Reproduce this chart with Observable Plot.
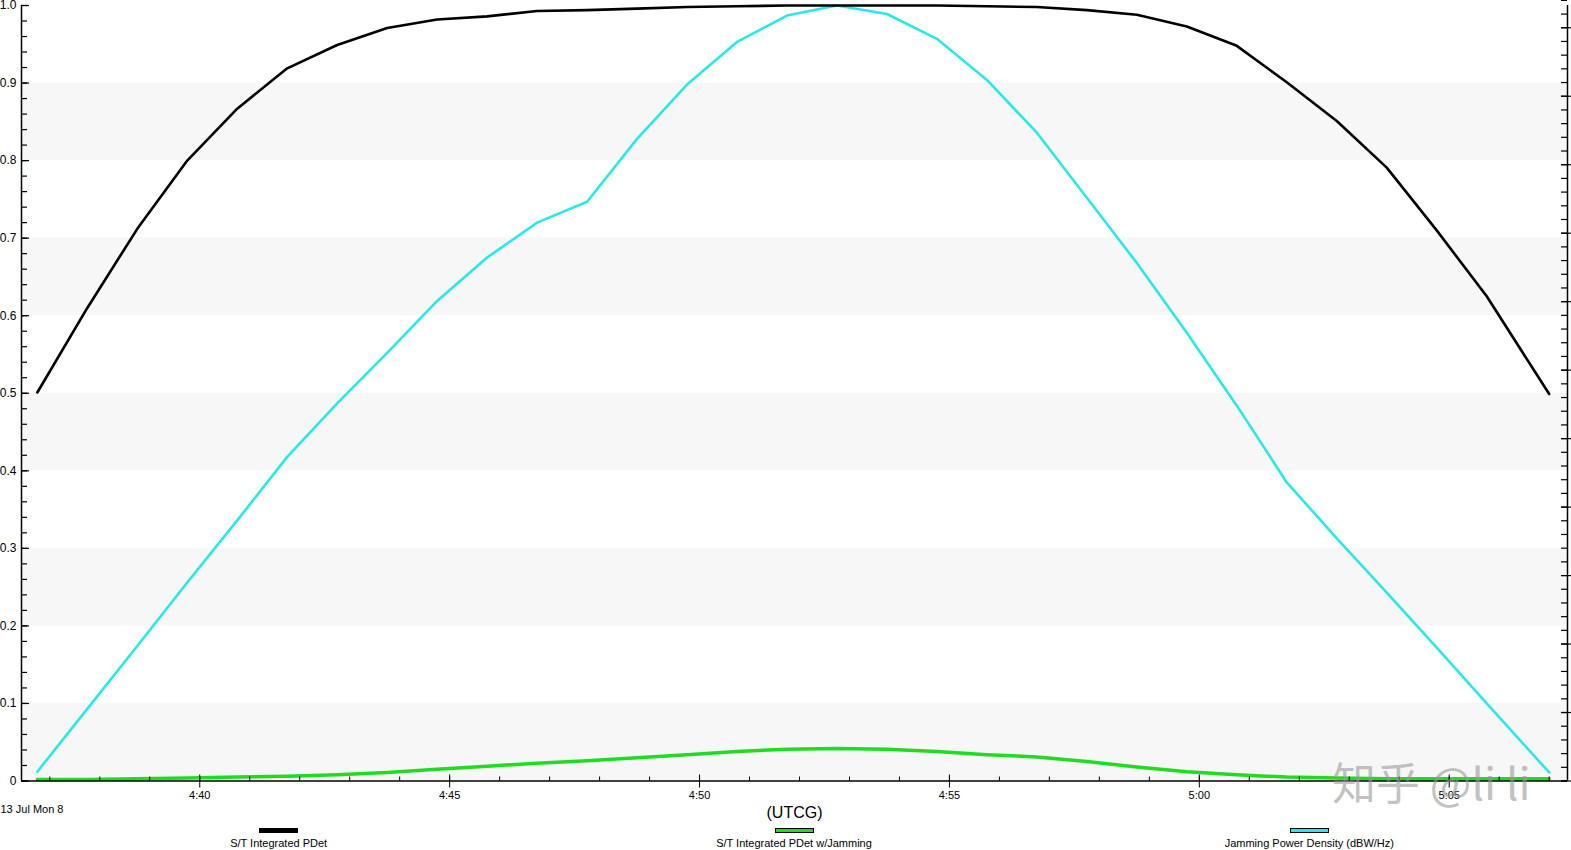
<!DOCTYPE html>
<html><head><meta charset="utf-8">
<script src="https://cdn.jsdelivr.net/npm/d3@7"></script>
<script src="https://cdn.jsdelivr.net/npm/@observablehq/plot@0.6"></script>
<style>
body{margin:0;background:#fff;font-family:Arial,"Liberation Sans",sans-serif;}
#wrap{position:relative;width:1571px;height:850px;overflow:hidden;background:#fff;}
#wrap svg{display:block;}
.sw{position:absolute;top:828px;width:37px;height:3px;border:1px solid #000;}
.lt{position:absolute;top:837px;font-size:11px;line-height:13px;transform:translateX(-50%);white-space:nowrap;color:#000;}
</style></head><body><div id="wrap"></div>
<script>
// sample times (UTCG, 13 Jul)
const times = ["04:36:45","04:37:45","04:38:45","04:39:45","04:40:45","04:41:45","04:42:45","04:43:45","04:44:45","04:45:45",
  "04:46:45","04:47:45","04:48:45","04:49:45","04:50:45","04:51:45","04:52:45","04:53:45","04:54:45","04:55:45",
  "04:56:45","04:57:45","04:58:45","04:59:45","05:00:45","05:01:45","05:02:45","05:03:45","05:04:45","05:05:45","05:07:00"];
// S/T Integrated PDet
const pdet = [0.501,0.610,0.712,0.800,0.867,0.919,0.949,0.971,0.982,0.986,
  0.993,0.994,0.996,0.998,0.999,1.000,1.000,1.000,1.000,0.999,
  0.998,0.994,0.988,0.973,0.948,0.901,0.851,0.791,0.710,0.625,0.499];
// S/T Integrated PDet w/Jamming
const pdetJam = [0.002,0.002,0.003,0.004,0.005,0.006,0.008,0.011,0.015,0.019,
  0.023,0.026,0.030,0.034,0.038,0.041,0.042,0.041,0.038,0.034,
  0.031,0.025,0.018,0.012,0.008,0.005,0.004,0.003,0.003,0.003,0.003];
// Jamming Power Density (normalised)
const jamPower = [0.012,0.093,0.174,0.256,0.336,0.418,0.487,0.552,0.619,0.675,
  0.720,0.747,0.828,0.898,0.953,0.987,1.000,0.989,0.957,0.904,
  0.836,0.752,0.668,0.578,0.484,0.385,0.313,0.243,0.172,0.100,0.011];

const xDomainStr = ["04:36:26", "05:07:22"];
const yTicks = [0,0.1,0.2,0.3,0.4,0.5,0.6,0.7,0.8,0.9,1.0];
const bandStarts = [0,0.2,0.4,0.6,0.8];
const rightStep = 0.0883; // right (dBW/Hz) axis major step in left-axis units
const seriesNames = ["S/T Integrated PDet","S/T Integrated PDet w/Jamming","Jamming Power Density (dBW/Hz)"];
const seriesColors = ["#000000","#1fdc1f","#2de6e6"];
const dateStr = "13 Jul Mon 8";
const axisTitle = "(UTCG)";
const watermark = "知乎 @li li";

const toDate = s => new Date("2020-07-13T" + s + "Z");
const data = times.map((t, i) => ({t: toDate(t), a: pdet[i], b: pdetJam[i], c: jamPower[i]}));
const xStart = toDate(xDomainStr[0]), xEnd = toDate(xDomainStr[1]);

const W = 1571, H = 822, mL = 21, mR = 4, mT = 5, mB = 41.5;
const PW = W - mL - mR, PH = H - mT - mB;

const minorX = d3.utcMinute.range(xStart, xEnd);
const majorX = d3.utcMinute.every(5).range(xStart, xEnd);
const minorY = d3.range(0, 1.0001, 0.02);
const rightMinor = d3.range(0, 1.01, rightStep / 5);
const rightMajor = d3.range(0, 1.01, rightStep);

const chart = Plot.plot({
  width: W, height: H,
  marginLeft: mL, marginRight: mR, marginTop: mT, marginBottom: mB,
  style: {fontFamily: "Arial, 'Liberation Sans', sans-serif", fontSize: "11px", background: "#fff", overflow: "visible"},
  x: {type: "utc", domain: [xStart, xEnd]},
  y: {domain: [0, 1]},
  marks: [
    Plot.rect(bandStarts, {x1: () => xStart, x2: () => xEnd, y1: d => d, y2: d => d + 0.1, fill: "#f7f7f7"}),
    Plot.line(data, {x: "t", y: "b", stroke: seriesColors[1], strokeWidth: 3.5}),
    Plot.line(data, {x: "t", y: "c", stroke: seriesColors[2], strokeWidth: 2.6}),
    Plot.line(data, {x: "t", y: "a", stroke: seriesColors[0], strokeWidth: 2.6}),
    // frame lines
    Plot.ruleX([xStart], {stroke: "#000", strokeWidth: 1.5}),
    Plot.ruleX([xEnd], {stroke: "#000", strokeWidth: 1.5}),
    Plot.ruleY([0], {stroke: "#000", strokeWidth: 1.5}),
    // left axis ticks (inside)
    Plot.tickY(minorY, {y: d => d, insetRight: PW - 6, stroke: "#000", strokeWidth: 1.2}),
    Plot.tickY(yTicks, {y: d => d, insetRight: PW - 8, stroke: "#000", strokeWidth: 1.2}),
    // right axis ticks
    Plot.tickY(rightMinor, {y: d => d, insetLeft: PW - 6, stroke: "#000", strokeWidth: 1.2}),
    Plot.tickY(rightMajor, {y: d => d, insetLeft: PW - 6, insetRight: -4, stroke: "#000", strokeWidth: 1.2}),
    // bottom axis ticks
    Plot.tickX(minorX, {x: d => d, insetTop: PH - 4, stroke: "#000", strokeWidth: 1}),
    Plot.tickX(majorX, {x: d => d, insetTop: PH - 6, insetBottom: -7, stroke: "#000", strokeWidth: 1}),
    Plot.axisY({ticks: yTicks, tickSize: 0, tickPadding: 5, fontSize: 12, label: null,
      tickFormat: d => d === 0 ? "0" : d.toFixed(1)}),
    Plot.axisX({ticks: majorX, tickSize: 0, tickPadding: 10, fontSize: 11, label: null,
      tickFormat: d3.utcFormat("%-H:%M")}),
    Plot.text([dateStr], {text: d => d, frameAnchor: "bottom-left", dx: -mL, dy: 28, textAnchor: "start", lineAnchor: "middle", fontSize: 11}),
    Plot.text([axisTitle], {text: d => d, frameAnchor: "bottom", dy: 32, lineAnchor: "middle", fontSize: 16}),
    Plot.text([watermark], {text: d => d, frameAnchor: "bottom-right", dx: -37, dy: 5, textAnchor: "end", lineAnchor: "middle",
      fontSize: 44, fill: "#999999", fillOpacity: 0.6, fontFamily: "'Noto Sans CJK SC', sans-serif"})
  ]
});

const wrap = document.getElementById("wrap");
wrap.appendChild(chart);
const centers = [mL + PW / 6, mL + PW / 2, mL + 5 * PW / 6];
seriesNames.forEach((name, i) => {
  const sw = document.createElement("div");
  sw.className = "sw";
  sw.style.left = (centers[i] - 19.5) + "px";
  sw.style.background = seriesColors[i];
  wrap.appendChild(sw);
  const lt = document.createElement("div");
  lt.className = "lt";
  lt.style.left = centers[i] + "px";
  lt.textContent = name;
  wrap.appendChild(lt);
});
</script></body></html>
